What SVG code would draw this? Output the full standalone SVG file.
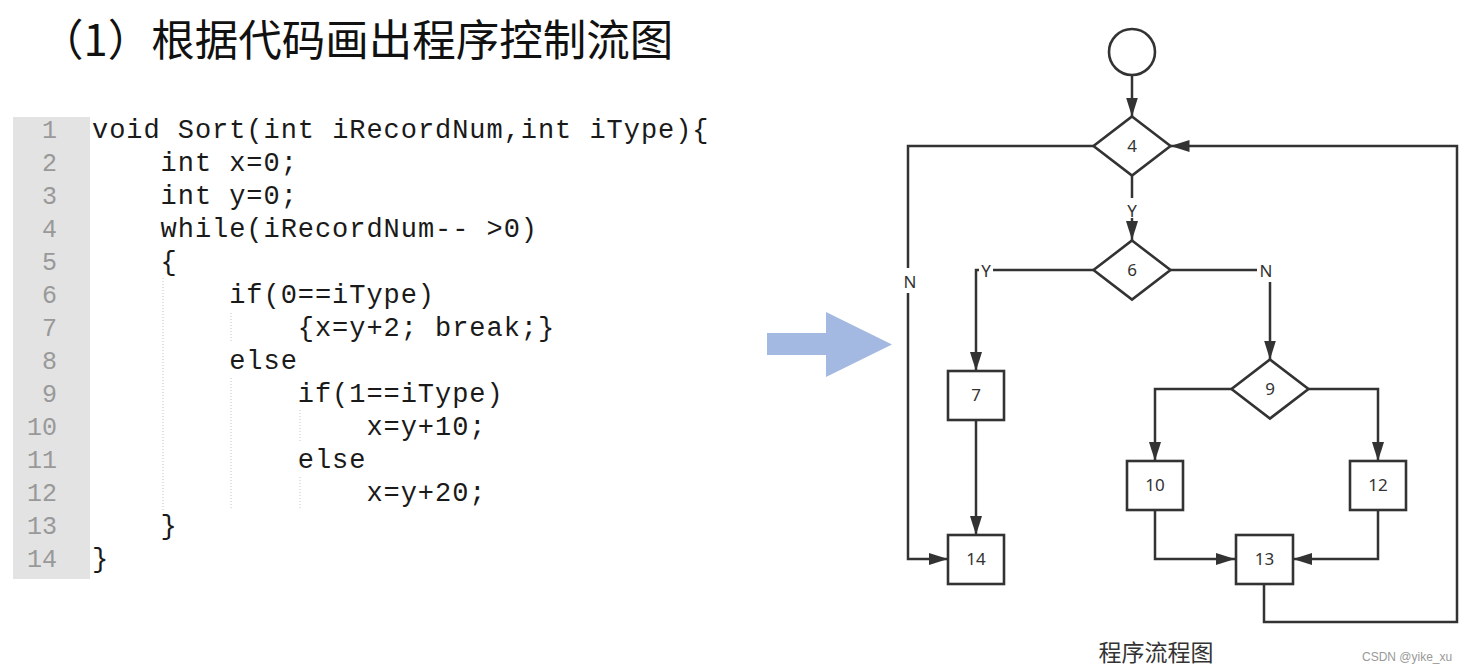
<svg xmlns="http://www.w3.org/2000/svg" width="1466" height="672" viewBox="0 0 1466 672">
<defs>
<style>
.code{font-family:"Liberation Mono",monospace;font-size:27px;letter-spacing:0.95px;fill:#1a1a1a}
.ln{font-family:"Liberation Mono",monospace;font-size:25px;fill:#999;text-anchor:end}
.guide{stroke:#c4c4c4;stroke-width:1;stroke-dasharray:1 2;fill:none}
.shape{fill:#fff;stroke:#333;stroke-width:2.6}
.edge{fill:none;stroke:#333;stroke-width:2.5}
.lbl{font-family:"Noto Sans","Liberation Sans",sans-serif;font-size:17px;fill:#333;text-anchor:middle}
.yn{font-family:"Noto Sans","Liberation Sans",sans-serif;font-size:17px;fill:#333;text-anchor:middle}
</style>
<marker id="ah" markerUnits="userSpaceOnUse" markerWidth="20" markerHeight="12" refX="19" refY="6" orient="auto">
<path d="M0,0 L19,6 L0,12 z" fill="#333"/>
</marker>
</defs>
<rect width="1466" height="672" fill="#fff"/>

<g id="title">
<text x="40" y="56" font-family="'Noto Sans CJK SC','Noto Sans',sans-serif" font-size="43.5" fill="#111">（1）根据代码画出程序控制流图</text>
</g>

<g id="code">
<rect x="13" y="117" width="77" height="462" fill="#e3e3e3"/>
<text class="ln" x="57" y="138">1</text>
<text class="ln" x="57" y="171">2</text>
<text class="ln" x="57" y="204">3</text>
<text class="ln" x="57" y="237">4</text>
<text class="ln" x="57" y="270">5</text>
<text class="ln" x="57" y="303">6</text>
<text class="ln" x="57" y="336">7</text>
<text class="ln" x="57" y="369">8</text>
<text class="ln" x="57" y="402">9</text>
<text class="ln" x="57" y="435">10</text>
<text class="ln" x="57" y="468">11</text>
<text class="ln" x="57" y="501">12</text>
<text class="ln" x="57" y="534">13</text>
<text class="ln" x="57" y="567">14</text>
<path class="guide" d="M163,278 V510 M231,313 V343 M231,378 V510 M300,410 V443 M300,477 V510"/>
<text class="code" x="92" y="138">void Sort(int iRecordNum,int iType){</text>
<text class="code" x="160.6" y="171">int x=0;</text>
<text class="code" x="160.6" y="204">int y=0;</text>
<text class="code" x="160.6" y="237">while(iRecordNum-- &gt;0)</text>
<text class="code" x="160.6" y="270">{</text>
<text class="code" x="229.2" y="303">if(0==iType)</text>
<text class="code" x="297.8" y="336">{x=y+2; break;}</text>
<text class="code" x="229.2" y="369">else</text>
<text class="code" x="297.8" y="402">if(1==iType)</text>
<text class="code" x="366.4" y="435">x=y+10;</text>
<text class="code" x="297.8" y="468">else</text>
<text class="code" x="366.4" y="501">x=y+20;</text>
<text class="code" x="160.6" y="534">}</text>
<text class="code" x="92" y="567">}</text>
</g>

<g id="bigArrow">
<polygon points="767,333 826,333 826,312 892,344.5 826,377 826,355 767,355" fill="#a4b9e1"/>
</g>

<g id="connectors">
<path class="edge" d="M1132,75 V116.5" marker-end="url(#ah)"/>
<path class="edge" d="M1132,175.5 V240" marker-end="url(#ah)"/>
<path class="edge" d="M1093.5,146 H908 V559 H948" marker-end="url(#ah)"/>
<path class="edge" d="M1093.5,270 H976 V371" marker-end="url(#ah)"/>
<path class="edge" d="M1170.5,270 H1270 V359.5" marker-end="url(#ah)"/>
<path class="edge" d="M976,420 V535" marker-end="url(#ah)"/>
<path class="edge" d="M1231.5,389 H1155 V461" marker-end="url(#ah)"/>
<path class="edge" d="M1308.5,389 H1378 V461" marker-end="url(#ah)"/>
<path class="edge" d="M1155,510 V559 H1235" marker-end="url(#ah)"/>
<path class="edge" d="M1378,510 V559 H1293" marker-end="url(#ah)"/>
<path class="edge" d="M1264,584 V622 H1457 V146 H1170.5" marker-end="url(#ah)"/>
<rect x="1122" y="198" width="20" height="20" fill="#fff"/>
<text class="yn" x="1132" y="217">Y</text>
<rect x="898" y="268" width="22" height="25" fill="#fff"/>
<text class="yn" x="910" y="288">N</text>
<rect x="979" y="262" width="14" height="18" fill="#fff"/>
<text class="yn" x="986" y="277">Y</text>
<rect x="1257" y="262" width="19" height="20" fill="#fff"/>
<text class="yn" x="1266" y="277">N</text>
</g>

<g id="start"><circle class="shape" cx="1132" cy="52" r="23"/></g>
<g id="n4"><polygon class="shape" points="1132,116.5 1170.5,146 1132,175.5 1093.5,146"/><text class="lbl" x="1132" y="152">4</text></g>
<g id="n6"><polygon class="shape" points="1132,240.5 1170.5,270 1132,299.5 1093.5,270"/><text class="lbl" x="1132" y="276">6</text></g>
<g id="n7"><rect class="shape" x="948" y="371" width="56" height="49"/><text class="lbl" x="976" y="401">7</text></g>
<g id="n14"><rect class="shape" x="948" y="535" width="56" height="49"/><text class="lbl" x="976" y="565">14</text></g>
<g id="n9"><polygon class="shape" points="1270,359.5 1308.5,389 1270,418.5 1231.5,389"/><text class="lbl" x="1270" y="395">9</text></g>
<g id="n10"><rect class="shape" x="1127" y="461" width="56" height="49"/><text class="lbl" x="1155" y="491">10</text></g>
<g id="n12"><rect class="shape" x="1350" y="461" width="56" height="49"/><text class="lbl" x="1378" y="491">12</text></g>
<g id="n13"><rect class="shape" x="1236" y="535" width="57" height="49"/><text class="lbl" x="1264.5" y="565">13</text></g>

<g id="caption">
<text x="1156" y="661" text-anchor="middle" font-family="'Noto Sans CJK SC',sans-serif" font-size="23" fill="#333">程序流程图</text>
<text x="1362" y="661" font-family="'Liberation Sans',sans-serif" font-size="12" fill="#999">CSDN @yike_xu</text>
</g>
</svg>
